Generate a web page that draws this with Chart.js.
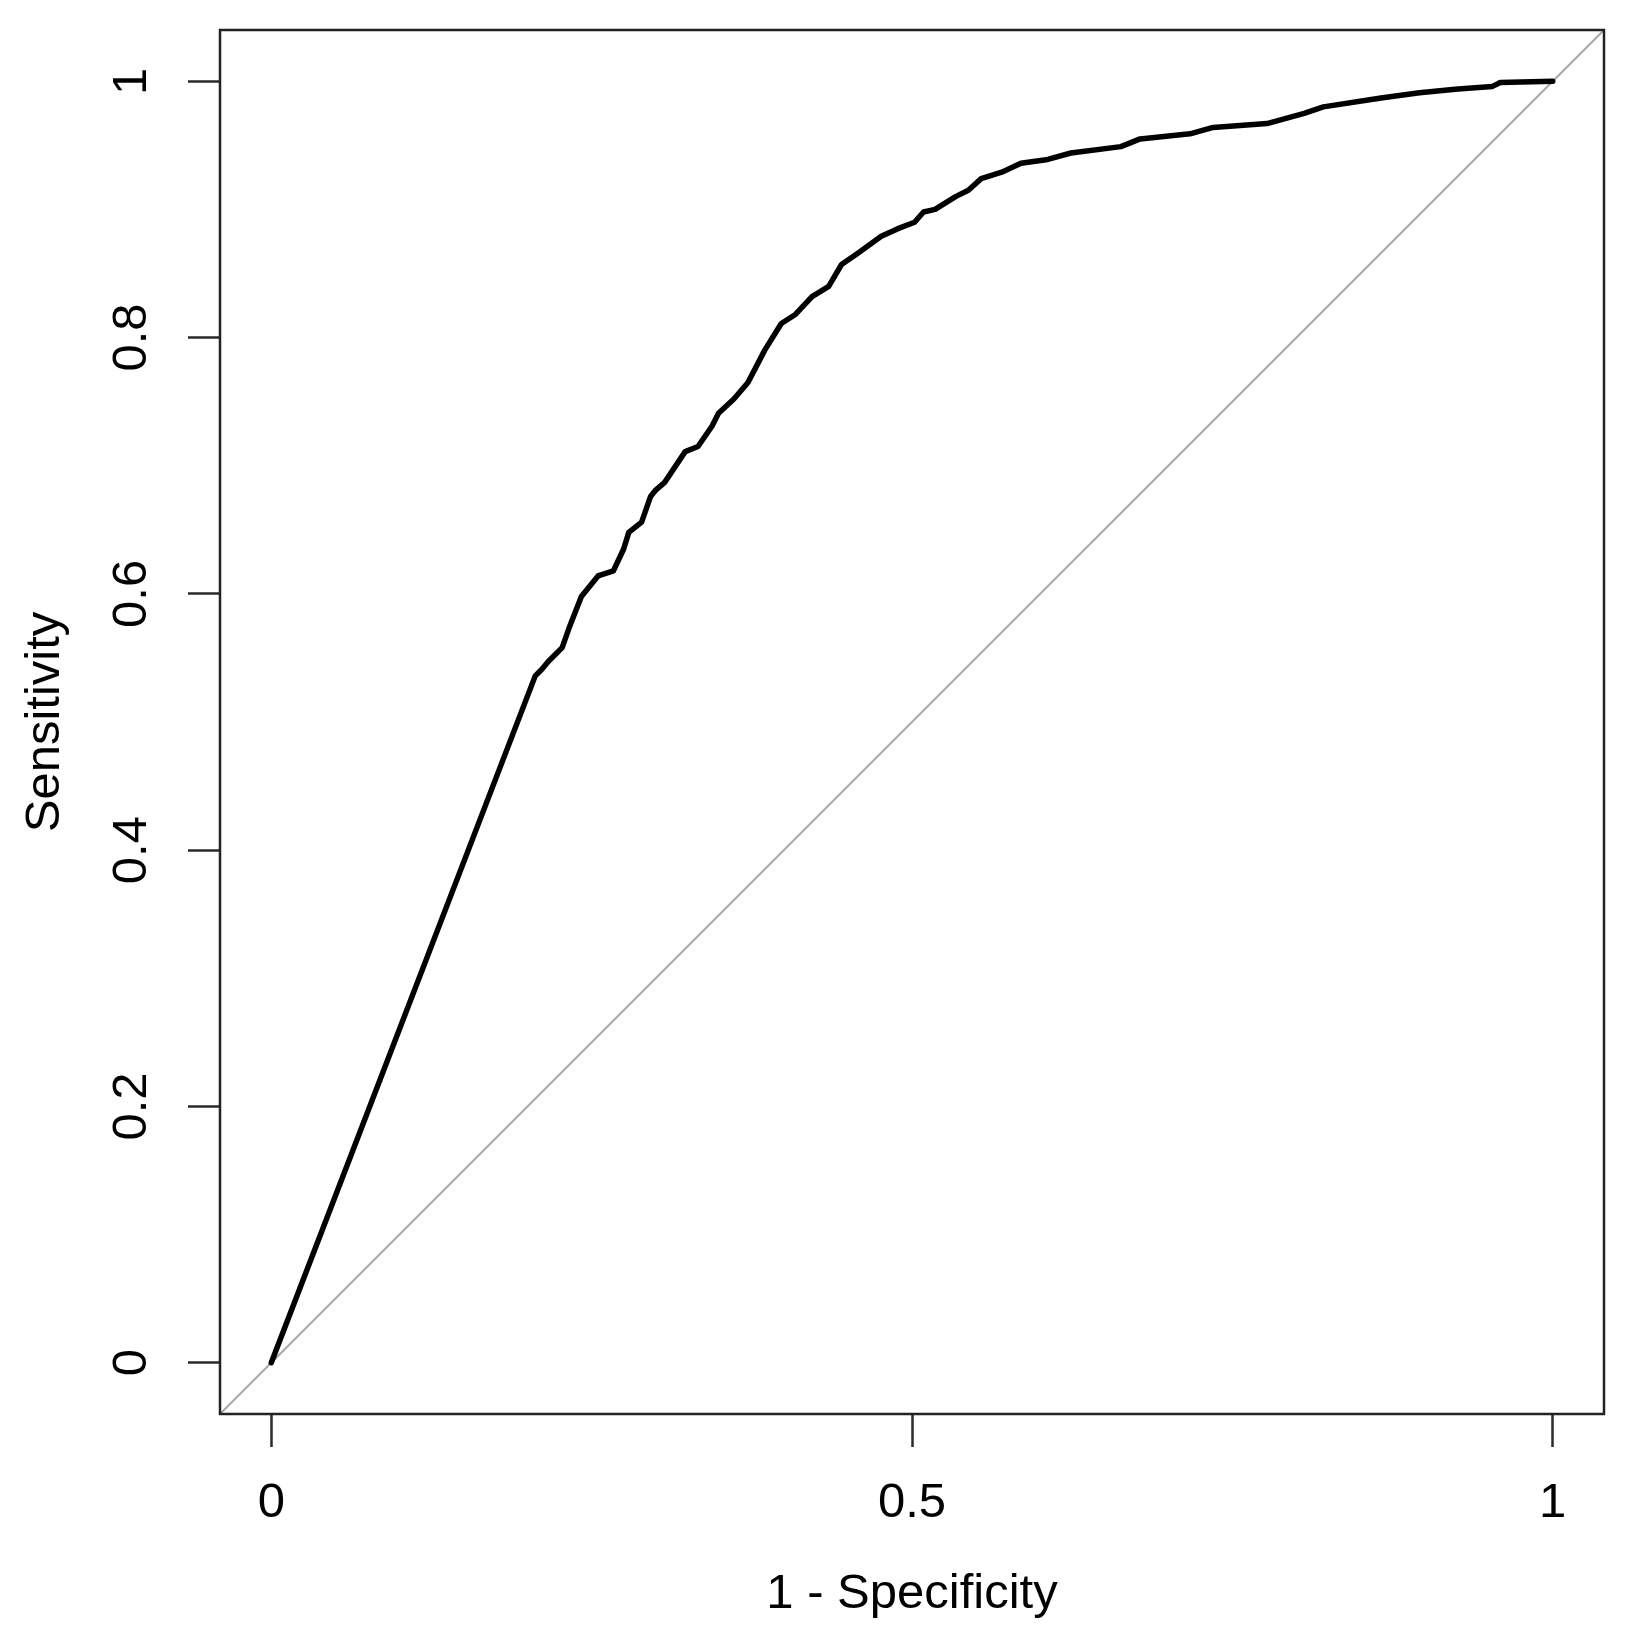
<!DOCTYPE html>
<html>
<head>
<meta charset="utf-8">
<script src="https://cdn.jsdelivr.net/npm/chart.js@4.4.1/dist/chart.umd.min.js"></script>
<style>
  html, body { margin: 0; padding: 0; background: #ffffff; }
  #c { display: block; }
</style>
</head>
<body>
<canvas id="c" width="1626" height="1648"></canvas>
<script>
// ---- data ----
const rocX = [0, 0.206, 0.211, 0.216, 0.227, 0.233, 0.242, 0.255, 0.267, 0.275, 0.279, 0.289, 0.296, 0.300, 0.307,
  0.323, 0.333, 0.344, 0.349, 0.361, 0.372, 0.385, 0.398, 0.409, 0.422, 0.435, 0.445, 0.458, 0.476, 0.489,
  0.502, 0.509, 0.518, 0.534, 0.544, 0.554, 0.570, 0.585, 0.606, 0.624, 0.663, 0.678, 0.717, 0.735, 0.777,
  0.806, 0.821, 0.866, 0.896, 0.926, 0.953, 0.959, 1];
const rocY = [0, 0.536, 0.541, 0.547, 0.558, 0.575, 0.598, 0.614, 0.618, 0.635, 0.648, 0.656, 0.676, 0.681, 0.687,
  0.711, 0.715, 0.731, 0.741, 0.752, 0.765, 0.790, 0.811, 0.818, 0.832, 0.840, 0.857, 0.866, 0.879, 0.885,
  0.890, 0.898, 0.900, 0.910, 0.915, 0.924, 0.929, 0.936, 0.939, 0.944, 0.949, 0.955, 0.959, 0.964, 0.967,
  0.975, 0.980, 0.987, 0.991, 0.994, 0.996, 0.999, 1];
const diagX = [-0.04, 1.04];
const diagY = [-0.04, 1.04];
const xTicks = [0, 0.5, 1];
const xTickLabels = ['0', '0.5', '1'];
const yTicks = [0, 0.2, 0.4, 0.6, 0.8, 1];
const yTickLabels = ['0', '0.2', '0.4', '0.6', '0.8', '1'];
const xTitle = '1 - Specificity';
const yTitle = 'Sensitivity';
const axisMin = -0.04;
const axisMax = 1.04;

// ---- build chart ----
const toPts = (xs, ys) => xs.map((x, i) => ({x: x, y: ys[i]}));
const FONT = {family: '"Liberation Sans", Arial, Helvetica, sans-serif', size: 49, lineHeight: 1.2};

const boxPlugin = {
  id: 'box',
  afterDatasetsDraw(chart) {
    const a = chart.chartArea;
    const ctx = chart.ctx;
    ctx.save();
    ctx.strokeStyle = '#222222';
    ctx.lineWidth = 2.5;
    ctx.strokeRect(a.left, a.top, a.right - a.left, a.bottom - a.top);
    ctx.restore();
  }
};

new Chart(document.getElementById('c'), {
  type: 'scatter',
  data: {
    datasets: [
      {
        label: 'ROC',
        data: toPts(rocX, rocY),
        showLine: true,
        borderColor: '#000000',
        borderWidth: 5.5,
        pointRadius: 0,
        fill: false,
        tension: 0,
        borderJoinStyle: 'round',
        borderCapStyle: 'round'
      },
      {
        label: 'diag',
        data: toPts(diagX, diagY),
        showLine: true,
        borderColor: '#a8a8a8',
        borderWidth: 2,
        pointRadius: 0,
        fill: false
      }
    ]
  },
  options: {
    responsive: false,
    animation: false,
    devicePixelRatio: 1,
    layout: {padding: {top: 30, right: 22, left: 0, bottom: 0}},
    plugins: {legend: {display: false}, tooltip: {enabled: false}},
    scales: {
      x: {
        type: 'linear',
        position: 'bottom',
        min: axisMin,
        max: axisMax,
        afterBuildTicks: s => { s.ticks = xTicks.map(v => ({value: v})); },
        afterFit: s => { s.height = 234; s.paddingLeft = 0; s.paddingRight = 0; s.paddingTop = 0; s.paddingBottom = 0; },
        grid: {display: true, drawOnChartArea: false, drawTicks: true, tickLength: 33, tickWidth: 2.5, tickColor: '#2a2a2a'},
        border: {display: false},
        ticks: {
          autoSkip: false, maxRotation: 0, minRotation: 0, padding: 27,
          color: '#000000', font: FONT,
          callback: (v, i) => xTickLabels[i]
        },
        title: {display: true, text: xTitle, color: '#000000', font: FONT, padding: {top: 0, bottom: 24}}
      },
      y: {
        type: 'linear',
        position: 'left',
        min: axisMin,
        max: axisMax,
        afterBuildTicks: s => { s.ticks = yTicks.map(v => ({value: v})); },
        afterFit: s => { s.width = 220; s.paddingLeft = 0; s.paddingRight = 0; s.paddingTop = 0; s.paddingBottom = 0; },
        grid: {display: true, drawOnChartArea: false, drawTicks: true, tickLength: 32, tickWidth: 2.5, tickColor: '#2a2a2a'},
        border: {display: false},
        ticks: {
          autoSkip: false, minRotation: 90, maxRotation: 90, crossAlign: 'center', padding: 21,
          color: '#000000', font: FONT,
          callback: (v, i) => yTickLabels[i]
        },
        title: {display: true, text: yTitle, color: '#000000', font: FONT, padding: {top: 16, bottom: 0}}
      }
    }
  },
  plugins: [boxPlugin]
});
</script>
</body>
</html>
